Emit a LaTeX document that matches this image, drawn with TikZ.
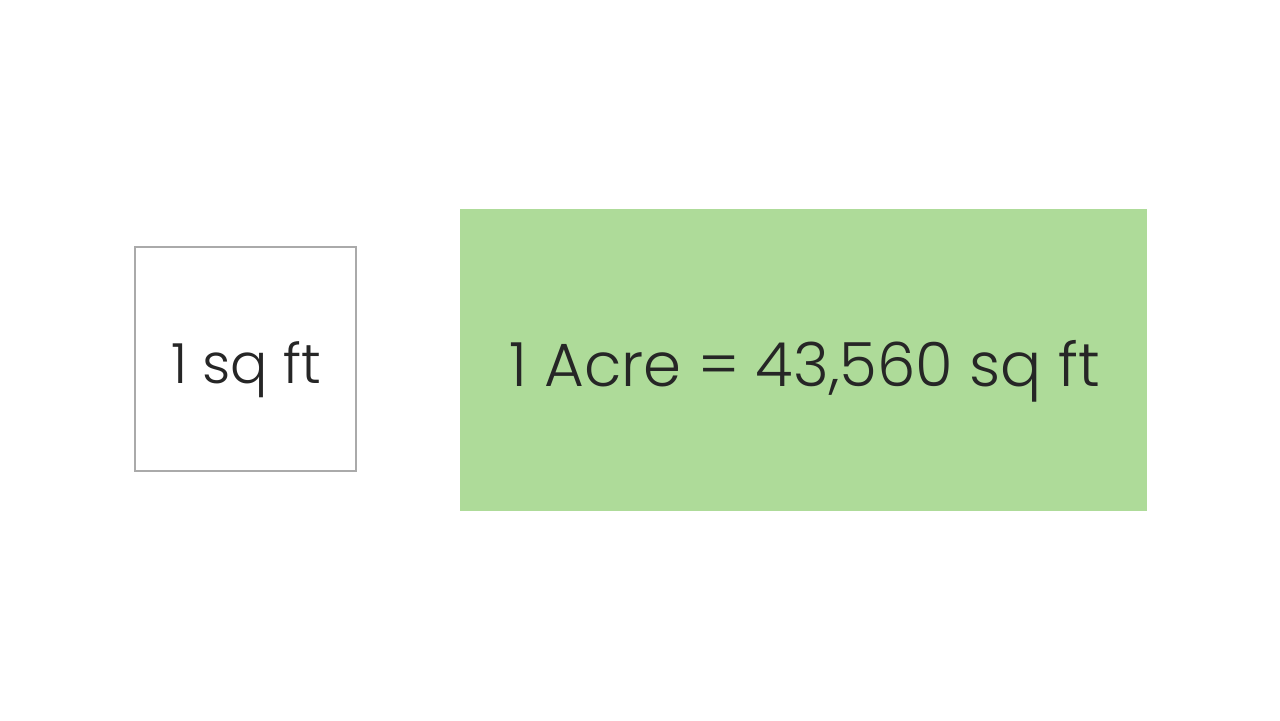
\documentclass[tikz,border=0pt]{standalone}
\usepackage{fontspec}
\setmainfont{Poppins}[UprightFont=* Light]
\usetikzlibrary{positioning}
\definecolor{acregreen}{RGB}{174,219,153}
\definecolor{boxgray}{RGB}{170,170,170}
\tikzset{
  sqftbox/.style={draw=boxgray, line width=0.9pt, fill=white, minimum width=4.42cm, minimum height=4.48cm, inner sep=0pt},
  acrebox/.style={fill=acregreen, minimum width=13.74cm, minimum height=6.04cm, inner sep=0pt},
  unittext/.style={text=black!85, inner sep=0pt}
}
\begin{document}
\begin{tikzpicture}[x=0.02cm, y=-0.02cm]
	% Frame of the slide
	\useasboundingbox (0,0) rectangle (1280,720);
	\fill[white] (0,0) rectangle (1280,720);

	% The two areas
	\node[sqftbox] (sqft) at (245.5,359) {};
	\node[acrebox] (acre) at (803.5,360) {};

	% Their labels
	\node[unittext, font=\fontsize{31.5}{36}\selectfont] (sqfttext) at (246,370) {1 sq ft};
	\node[unittext, font=\fontsize{34.7}{40}\selectfont] (acretext) at (805,371) {1 Acre = 43,560 sq ft};
\end{tikzpicture}
\end{document}
